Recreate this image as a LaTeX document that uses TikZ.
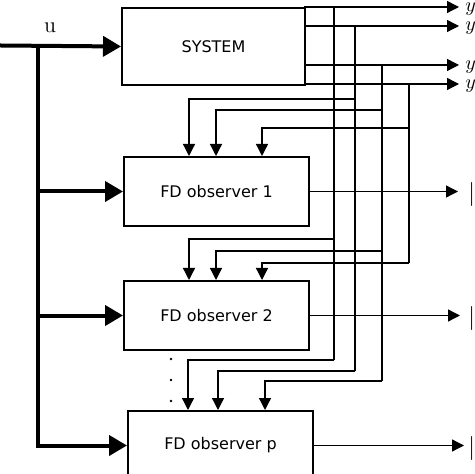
\documentclass[tikz,border=0pt]{standalone}
\usepackage{fontspec}
\setsansfont{DejaVu Sans}
\usetikzlibrary{positioning,arrows.meta,calc}

\begin{document}
\begin{tikzpicture}[x=0.5pt,y=-0.5pt,
	block/.style={draw,line width=1pt,inner sep=0pt,minimum width=92.5pt,minimum height=34.5pt,
		anchor=north west,font=\sffamily\fontsize{8}{10}\selectfont},
	sig/.style={line width=0.65pt,-{Triangle[length=6pt,width=6pt]}},
	bus/.style={line width=2pt,-{Triangle[length=9pt,width=10pt]}},
	wire/.style={line width=0.65pt},
	outlabel/.style={anchor=west,inner sep=0pt}]
	\useasboundingbox (0,0) rectangle (474,474);

	% blocks
	\node[block,minimum width=91.5pt,minimum height=38.5pt] (sys) at (121,7) {SYSTEM};
	\node[block] (obs1) at (123,156) {FD observer 1};
	\node[block] (obs2) at (123,280) {FD observer 2};
	\node[block] (obsp) at (127,410) {FD observer p};

	% input u
	\coordinate (in) at (0,45.5);
	\coordinate (tap) at (38,45.5);
	\node[font=\fontsize{11}{13}\selectfont] (u) at (50,28) {u};
	\draw[bus] (in) -- (sys.west);
	\draw[bus] (tap) |- (obsp.west);
	\foreach \o in {obs1,obs2}
		\draw[bus] (tap |- \o.west) -- (\o.west);

	% measured outputs
	\foreach \n/\yy in {1/7,2/26,3/65,4/84} {
		\coordinate (o\n) at (304,\yy);
		\coordinate (e\n) at (459,\yy);
		\draw[sig] (o\n) -- (e\n);
		\node[outlabel] (y\n) at (465,\yy+2) {$y_\n$};
	}

	% taps to the observers
	\draw[wire] (334,7) -- (334,360);
	\draw[wire] (355,26) -- (355,371);
	\draw[wire] (382,65) -- (382,381);
	\draw[wire] (409,84) -- (409,263);
	\foreach \v/\h/\dx in {355/99/66,382/110/93,409/128/139}
		\draw[sig] (\v,\h) -| ($(obs1.north west)+(\dx,0)$);
	\foreach \v/\h/\dx in {334/239/66,382/251/93,409/263/139}
		\draw[sig] (\v,\h) -| ($(obs2.north west)+(\dx,0)$);
	\foreach \v/\h/\dx in {334/360/61,355/371/91,382/381/138}
		\draw[sig] (\v,\h) -| ($(obsp.north west)+(\dx,0)$);

	% residuals
	\foreach \o/\tip in {obs1/458,obs2/460,obsp/464} {
		\coordinate (r\o) at (\tip,0);
		\draw[sig] (\o.east) -- (r\o |- \o.east);
		\node[outlabel,font=\fontsize{12}{14}\selectfont] (bar\o) at ($(\o.east -| 468,0)+(0,3)$) {$|$};
	}

	% dots
	\foreach \d in {359,380,401}
		\fill (171,\d) circle (0.7pt);
\end{tikzpicture}
\end{document}
